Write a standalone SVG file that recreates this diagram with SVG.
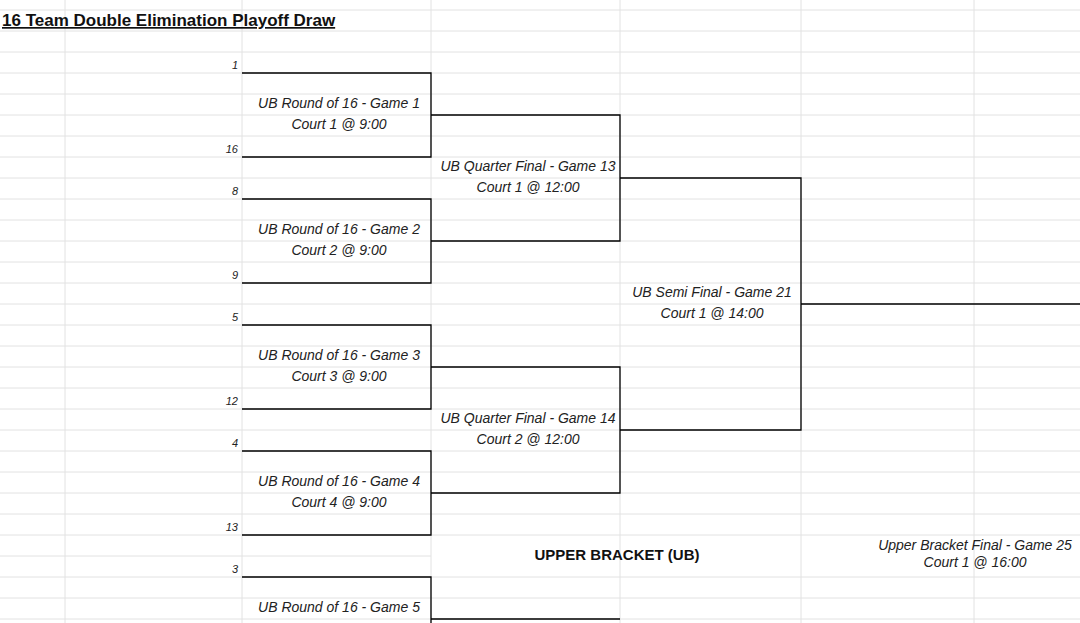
<svg xmlns="http://www.w3.org/2000/svg" width="1080" height="623" viewBox="0 0 1080 623">
<style>
.g{stroke:#e2e2e2;stroke-width:1}
.b{stroke:#000;stroke-width:1.3;fill:none}
.s{font:italic 11px "Liberation Sans",Arial,sans-serif;text-anchor:end;fill:#222}
.t{font:italic 14px "Liberation Sans",Arial,sans-serif;text-anchor:middle;fill:#222}
.f{font:italic 14px "Liberation Sans",Arial,sans-serif;text-anchor:middle;fill:#222}
</style>
<rect width="1080" height="623" fill="#fff"/>
<g id="grid">
<path class="g" d="M0 10H1080M0 31H1080M0 52H1080M0 73H1080M0 94H1080M0 115H1080M0 136H1080M0 157H1080M0 178H1080M0 199H1080M0 220H1080M0 241H1080M0 262H1080M0 283H1080M0 304H1080M0 325H1080M0 346H1080M0 367H1080M0 388H1080M0 409H1080M0 430H1080M0 451H1080M0 472H1080M0 493H1080M0 514H1080M0 535H1080M0 556H431M0 577H1080M0 598H1080M0 619H1080M65 0V623M242 0V623M431 0V623M620 0V623M801 0V623M974 0V623"/>
</g>
<text x="2" y="26" font-family="Liberation Sans,Arial,sans-serif" font-size="17" font-weight="bold" text-decoration="underline" fill="#111">16 Team Double Elimination Playoff Draw</text>
<g id="connectors">
<path class="b" d="M242 73H431V157H242M431 115H620V241H431"/>
<path class="b" d="M242 199H431V283H242"/>
<path class="b" d="M620 178H801V430H620M801 304H1080"/>
<path class="b" d="M242 325H431V409H242M431 367H620V493H431"/>
<path class="b" d="M242 451H431V535H242"/>
<path class="b" d="M242 577H431V623M431 619H620"/>
</g>
<g id="seeds">
<text class="s" x="238" y="69">1</text>
<text class="s" x="238" y="153">16</text>
<text class="s" x="238" y="195">8</text>
<text class="s" x="238" y="279">9</text>
<text class="s" x="238" y="321">5</text>
<text class="s" x="238" y="405">12</text>
<text class="s" x="238" y="447">4</text>
<text class="s" x="238" y="531">13</text>
<text class="s" x="238" y="573">3</text>
</g>
<g id="g1"><text class="t" x="339" y="108">UB Round of 16 - Game 1</text><text class="t" x="339" y="129">Court 1 @ 9:00</text></g>
<g id="g2"><text class="t" x="339" y="234">UB Round of 16 - Game 2</text><text class="t" x="339" y="255">Court 2 @ 9:00</text></g>
<g id="g3"><text class="t" x="339" y="360">UB Round of 16 - Game 3</text><text class="t" x="339" y="381">Court 3 @ 9:00</text></g>
<g id="g4"><text class="t" x="339" y="486">UB Round of 16 - Game 4</text><text class="t" x="339" y="507">Court 4 @ 9:00</text></g>
<g id="g5"><text class="t" x="339" y="612">UB Round of 16 - Game 5</text></g>
<g id="g13"><text class="t" x="528" y="171">UB Quarter Final - Game 13</text><text class="t" x="528" y="192">Court 1 @ 12:00</text></g>
<g id="g14"><text class="t" x="528" y="423">UB Quarter Final - Game 14</text><text class="t" x="528" y="444">Court 2 @ 12:00</text></g>
<g id="g21"><text class="t" x="712" y="297">UB Semi Final - Game 21</text><text class="t" x="712" y="318">Court 1 @ 14:00</text></g>
<text x="617" y="560" font-family="Liberation Sans,Arial,sans-serif" font-size="15" font-weight="bold" text-anchor="middle" fill="#111">UPPER BRACKET (UB)</text>
<g id="g25"><text class="f" x="975" y="550">Upper Bracket Final - Game 25</text><text class="f" x="975" y="567">Court 1 @ 16:00</text></g>
</svg>
